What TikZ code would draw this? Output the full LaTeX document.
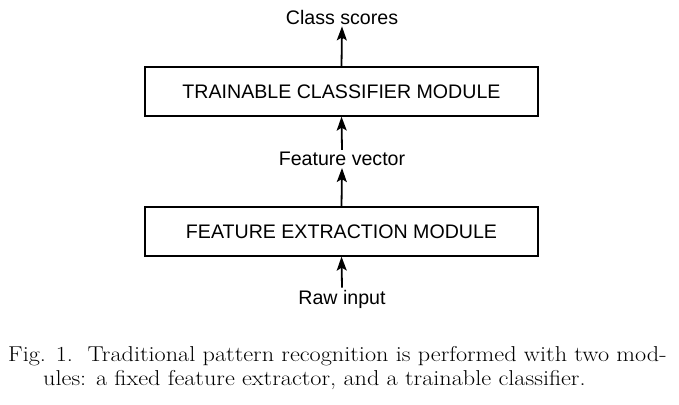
\documentclass[tikz,border=0pt]{standalone}
\usepackage{fontspec}
\usetikzlibrary{arrows.meta}
\newfontfamily\sans{Liberation Sans}
\begin{document}
\begin{tikzpicture}[x=1pt,y=-1pt,
  mod/.style={draw,line width=1.2pt,minimum width=393pt,minimum height=49pt,font=\sans\fontsize{19.6}{22}\selectfont},
  lab/.style={font=\sans\fontsize{19.6}{22}\selectfont,inner sep=2pt},
  arr/.style={-{Stealth[length=14pt,width=10pt,inset=3pt]},line width=1.8pt},
  captxt/.style={font=\fontsize{21.5}{24}\selectfont,anchor=west,inner sep=0,xscale=1.127,transform shape}]
\useasboundingbox (0,0) rectangle (679,404);
\node[mod] (cls) at (341.5,91.5) {TRAINABLE CLASSIFIER MODULE};
\node[mod] (fex) at (341.5,231.5) {FEATURE EXTRACTION MODULE};
\node[lab] (cs) at (342,17) {Class scores};
\node[lab] (fv) at (342,159) {Feature vector};
\node[lab] (ri) at (342,299) {Raw input};
\draw[arr] (cls.north) -- (cs.south);
\draw[arr] (fv.north) -- (cls.south);
\draw[arr] (fex.north) -- (fv.south);
\draw[arr] (ri.north) -- (fex.south);
\node[captxt] (c1) at (8,356) {Fig. 1.\ \ Traditional pattern recognition is performed with two mod-};
\node[captxt] (c2) at (43,380) {ules: a fixed feature extractor, and a trainable classifier.};
\end{tikzpicture}
\end{document}
